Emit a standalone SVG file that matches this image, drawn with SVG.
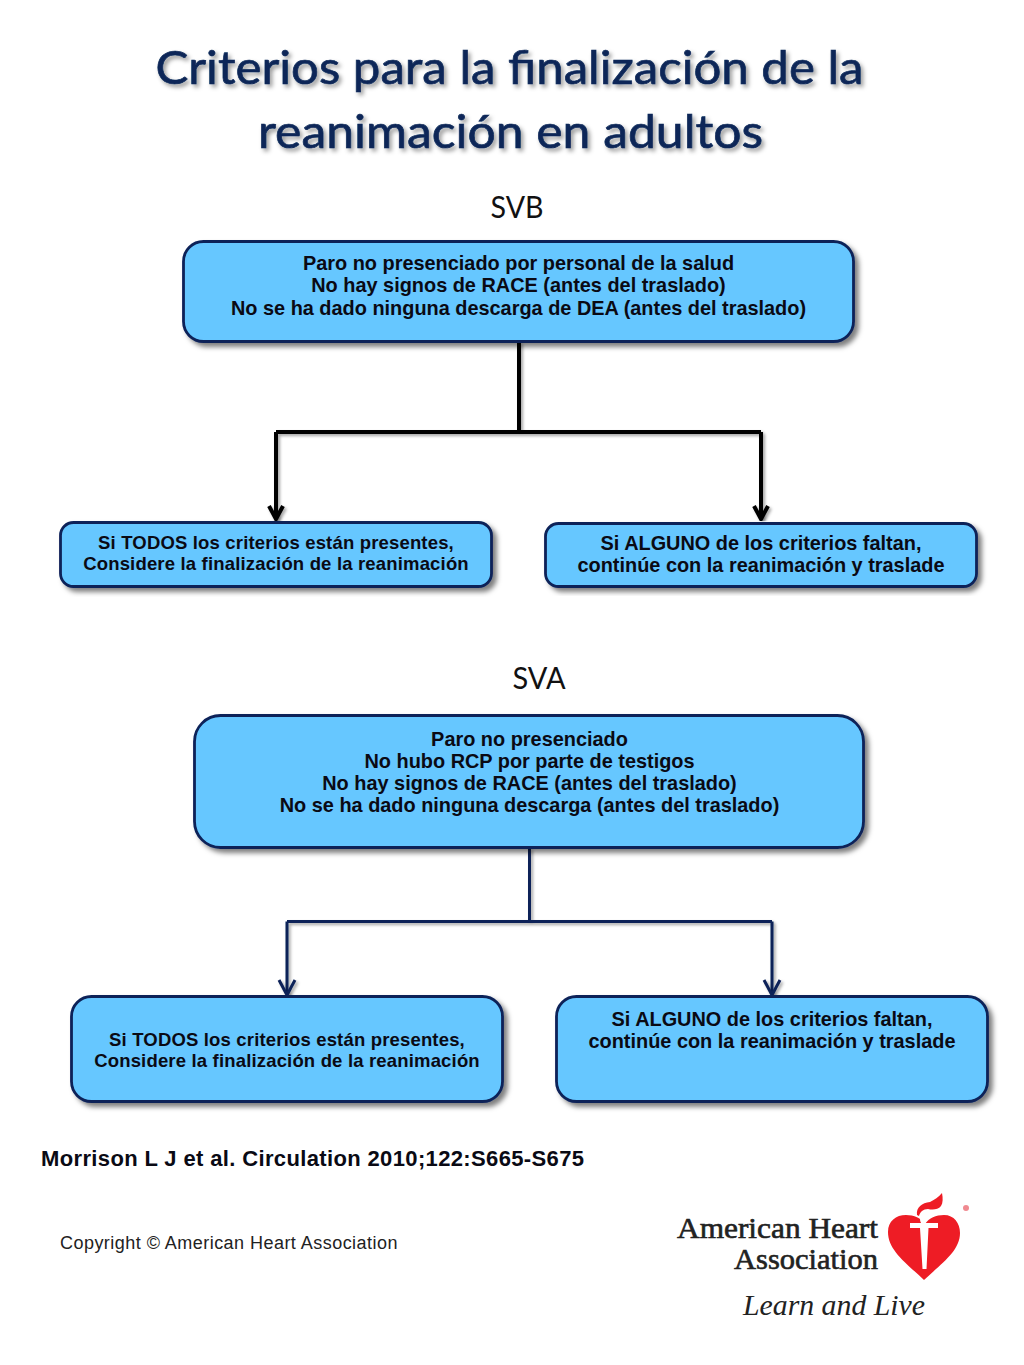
<svg xmlns="http://www.w3.org/2000/svg" width="1024" height="1365" viewBox="0 0 1024 1365">
<style>
text{font-family:"Liberation Sans",Arial,sans-serif;text-anchor:middle;fill:#0a0a14}
.title{font-family:Lato,"Open Sans",sans-serif;font-size:47px;fill:#0a2858;stroke:#0a2858;stroke-width:.7px;filter:url(#ts)}
.sec{font-family:Lato,"Open Sans",sans-serif;font-size:31px;fill:#111}
.box{fill:#66c7ff;stroke:#0a2158;stroke-width:2.8;filter:url(#ds)}
.b20{font-weight:bold;font-size:19.900px}
.b19{font-weight:bold;font-size:18.500px;letter-spacing:.17px}
.k{fill:none;stroke:#000;stroke-width:4;filter:url(#cs)}
.n{fill:none;stroke:#0a2158;stroke-width:3;filter:url(#cs)}
.logo{font-family:"Liberation Serif",serif;font-size:29px;fill:#222;stroke:#222;stroke-width:.6px}
</style>
<defs>
<filter id="ds" x="-5%" y="-15%" width="110%" height="130%"><feDropShadow dx="4" dy="4" stdDeviation="2.500" flood-color="#000" flood-opacity=".5"/></filter>
<filter id="cs" x="-10%" y="-10%" width="120%" height="120%"><feDropShadow dx="2" dy="2" stdDeviation="1.500" flood-color="#000" flood-opacity=".35"/></filter>
<filter id="ts" x="-5%" y="-20%" width="110%" height="140%"><feDropShadow dx="2.500" dy="3" stdDeviation="2" flood-color="#000" flood-opacity=".4"/></filter>
</defs>
<rect width="1024" height="1365" fill="#fff"/>
<g id="title">
<text class="title" x="509.500" y="84" textLength="708" lengthAdjust="spacingAndGlyphs">Criterios para la finalización de la</text>
<text class="title" x="510.500" y="148" textLength="505" lengthAdjust="spacingAndGlyphs">reanimación en adultos</text>
</g>
<g id="connectors">
<path class="k" d="M519 342V432M276 432H761M276 432V519M761 432V519"/>
<path class="k" d="M269 506L276 519L283 506M754 506L761 519L768 506"/>
<path class="n" d="M529.500 848V921M287 921.500H772M287 921.500V994M772 921.500V994"/>
<path class="n" d="M279 980L287 995L295 980M764 980L772 995L780 980"/>
</g>
<g id="label-svb"><text class="sec" x="517" y="218" textLength="53" lengthAdjust="spacingAndGlyphs">SVB</text></g>
<g id="node-svb-main">
<rect class="box" x="183.500" y="241.500" width="670" height="100" rx="20"/>
<text class="b20" x="518.500" y="270">Paro no presenciado por personal de la salud</text>
<text class="b20" x="518.500" y="292">No hay signos de RACE (antes del traslado)</text>
<text class="b20" x="518.500" y="315">No se ha dado ninguna descarga de DEA (antes del traslado)</text>
</g>
<g id="node-svb-left">
<rect class="box" x="60.500" y="522.500" width="431" height="64" rx="13"/>
<text class="b19" x="276" y="549">Si TODOS los criterios están presentes,</text>
<text class="b19" x="276" y="570">Considere la finalización de la reanimación</text>
</g>
<g id="node-svb-right">
<rect class="box" x="545.500" y="523.500" width="431" height="63" rx="13"/>
<text class="b20" x="761" y="550">Si ALGUNO de los criterios faltan,</text>
<text class="b20" x="761" y="572">continúe con la reanimación y traslade</text>
</g>
<g id="label-sva"><text class="sec" x="539" y="689" textLength="53" lengthAdjust="spacingAndGlyphs">SVA</text></g>
<g id="node-sva-main">
<rect class="box" x="194.500" y="715.500" width="669" height="132" rx="26"/>
<text class="b20" x="529.500" y="746">Paro no presenciado</text>
<text class="b20" x="529.500" y="768">No hubo RCP por parte de testigos</text>
<text class="b20" x="529.500" y="790">No hay signos de RACE (antes del traslado)</text>
<text class="b20" x="529.500" y="812">No se ha dado ninguna descarga (antes del traslado)</text>
</g>
<g id="node-sva-left">
<rect class="box" x="71.500" y="996.500" width="431" height="105" rx="20"/>
<text class="b19" x="287" y="1046">Si TODOS los criterios están presentes,</text>
<text class="b19" x="287" y="1067">Considere la finalización de la reanimación</text>
</g>
<g id="node-sva-right">
<rect class="box" x="556.500" y="996.500" width="431" height="105" rx="20"/>
<text class="b20" x="772" y="1026">Si ALGUNO de los criterios faltan,</text>
<text class="b20" x="772" y="1048">continúe con la reanimación y traslade</text>
</g>
<g id="citation">
<text x="41" y="1166" style="text-anchor:start;font-weight:bold;font-size:22px;letter-spacing:.36px">Morrison L J et al. Circulation 2010;122:S665-S675</text>
<text x="60" y="1249" style="text-anchor:start;font-size:18px;letter-spacing:.46px;fill:#222">Copyright © American Heart Association</text>
</g>
<g id="logo">
<text class="logo" x="878" y="1238" style="text-anchor:end" textLength="201" lengthAdjust="spacingAndGlyphs">American Heart</text>
<text class="logo" x="878" y="1269" style="text-anchor:end" textLength="144" lengthAdjust="spacingAndGlyphs">Association</text>
<text x="834" y="1315" style="font-family:'Liberation Serif',serif;font-style:italic;font-size:29px;fill:#222" textLength="182" lengthAdjust="spacingAndGlyphs">Learn and Live</text>
<path fill="#ee1c25" d="M924 1280C905 1262 888 1250 888 1232C888 1221 896 1215 906 1215C914 1215 921 1218 925 1224C929 1218 936 1215 944 1215C954 1215 960 1223 960 1233C960 1251 942 1263 924 1280Z"/>
<path fill="#ee1c25" d="M917 1215C916 1207 922 1203 930 1202C934 1200 939 1197 942 1193C943 1198 943 1203 941 1206C938 1210 932 1210 928 1209C923 1209 920 1212 919 1216Z"/>
<ellipse cx="923" cy="1219" rx="3" ry="5" fill="#fff"/>
<path fill="#fff" d="M910 1223H938V1228H928.500L926.500 1269H922.500L920 1228H910Z"/>
<circle cx="966" cy="1208" r="3" fill="#f08a90"/>
</g>
</svg>
